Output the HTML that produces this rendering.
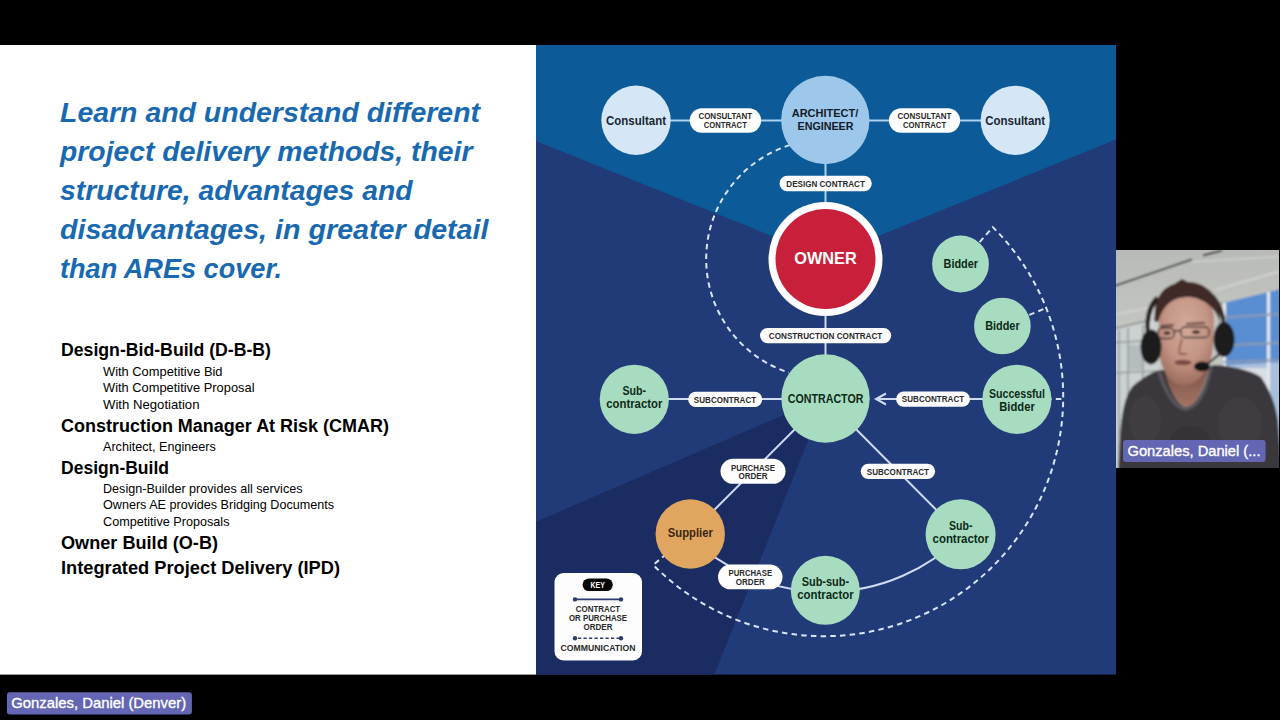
<!DOCTYPE html>
<html><head><meta charset="utf-8">
<style>
html,body{margin:0;padding:0;background:#000;width:1280px;height:720px;overflow:hidden}
svg{display:block}
text{font-family:"Liberation Sans",sans-serif}
</style></head>
<body>
<svg width="1280" height="720" viewBox="0 0 1280 720">
<defs>
<linearGradient id="ceil" x1="0" y1="0" x2="0" y2="1">
<stop offset="0" stop-color="#b8bab6"/><stop offset="1" stop-color="#c4c6c2"/>
</linearGradient>
<radialGradient id="face" cx="0.5" cy="0.35" r="0.65">
<stop offset="0" stop-color="#d3aa9a"/><stop offset="0.6" stop-color="#c39484"/><stop offset="1" stop-color="#9e6e5e"/>
</radialGradient>
<linearGradient id="neck" x1="0" y1="0" x2="0" y2="1">
<stop offset="0.35" stop-color="#7d564a"/><stop offset="1" stop-color="#a47464"/>
</linearGradient>
</defs>
<rect x="0" y="0" width="1280" height="720" fill="#000"/>
<!-- slide left -->
<rect x="0" y="45" width="536" height="629.6" fill="#fff"/>
<!-- title -->
<g font-weight="bold" font-style="italic" font-size="28.5" fill="#1869b0">
<text x="60" y="121.5" textLength="420" lengthAdjust="spacingAndGlyphs">Learn and understand different</text>
<text x="60" y="160.5" textLength="412.5" lengthAdjust="spacingAndGlyphs">project delivery methods, their</text>
<text x="60" y="199.7" textLength="352.5" lengthAdjust="spacingAndGlyphs">structure, advantages and</text>
<text x="60" y="238.7" textLength="428.5" lengthAdjust="spacingAndGlyphs">disadvantages, in greater detail</text>
<text x="60" y="277.7" textLength="222" lengthAdjust="spacingAndGlyphs">than AREs cover.</text>
</g>
<g fill="#000">
<g font-weight="bold" font-size="17.5">
<text x="61" y="356" textLength="210" lengthAdjust="spacingAndGlyphs">Design-Bid-Build (D-B-B)</text>
<text x="61" y="431.8" textLength="328" lengthAdjust="spacingAndGlyphs">Construction Manager At Risk (CMAR)</text>
<text x="61" y="473.7" textLength="108" lengthAdjust="spacingAndGlyphs">Design-Build</text>
<text x="61" y="549.4" textLength="157" lengthAdjust="spacingAndGlyphs">Owner Build (O-B)</text>
<text x="61" y="574.1" textLength="279" lengthAdjust="spacingAndGlyphs">Integrated Project Delivery (IPD)</text>
</g>
<g font-size="12.6">
<text x="103" y="375.7" textLength="119.5" lengthAdjust="spacingAndGlyphs">With Competitive Bid</text>
<text x="103" y="392.2" textLength="151.5" lengthAdjust="spacingAndGlyphs">With Competitive Proposal</text>
<text x="103" y="408.6" textLength="96.5" lengthAdjust="spacingAndGlyphs">With Negotiation</text>
<text x="103" y="451.2">Architect, Engineers</text>
<text x="103" y="492.9">Design-Builder provides all services</text>
<text x="103" y="508.8">Owners AE provides Bridging Documents</text>
<text x="103" y="525.5" textLength="126.5" lengthAdjust="spacingAndGlyphs">Competitive Proposals</text>
</g>
</g>

<!-- diagram -->
<rect x="536" y="45" width="580" height="629.6" fill="#213a78"/>
<polygon points="825.5,397 536,521.7 536,674.6 714.2,674.6" fill="#1b2c63"/>
<polygon points="536,45 1116,45 1116,139.5 825.5,257.5 536,141" fill="#0c5a97"/>

<!-- dashed arcs -->
<g fill="none" stroke="#d8e5f8" stroke-width="2" stroke-dasharray="5.5 4.2">
<path d="M789.8,145.1 A119.4,119.4 0 0 0 788.8,372.6"/>
<path d="M960.5,264 L992.8,227.1 A239.5,239.5 0 1 1 653.2,564.9 L690.25,534"/>
<path d="M1002.4,326 L1047.1,307.6"/>
<path d="M1017,399 L1064,399"/>
</g>
<!-- solid lines top -->
<g stroke="#a9d2f2" stroke-width="2" fill="none">
<line x1="636" y1="120.5" x2="1015" y2="120.5"/>
<line x1="825.5" y1="120" x2="825.5" y2="240"/>
</g>
<g stroke="#cfdbf3" stroke-width="2" fill="none">
<line x1="825.5" y1="259" x2="825.5" y2="398"/>
<line x1="634" y1="399" x2="825" y2="399"/>
<line x1="876" y1="399" x2="1017" y2="399"/>
<polyline points="886,393.5 876,399 886,404.5" stroke-linejoin="miter"/>
<line x1="825.5" y1="398.5" x2="690.25" y2="534"/>
<line x1="825.5" y1="398.5" x2="960.6" y2="534.3"/>
<path d="M688.7,535.3 A193.5,193.5 0 0 0 962.3,535.3"/>
</g>

<!-- circles -->
<circle cx="636" cy="120.3" r="34.7" fill="#d5e7f6"/>
<circle cx="1015.2" cy="120.3" r="34.6" fill="#d5e7f6"/>
<circle cx="825.3" cy="120" r="44.2" fill="#9dc8eb"/>
<circle cx="825.5" cy="259" r="57" fill="#fff"/>
<circle cx="825.5" cy="259" r="50" fill="#c8203a"/>
<g fill="#a8dcc0">
<circle cx="825.5" cy="398.5" r="44.2"/>
<circle cx="634.3" cy="399.3" r="34.6"/>
<circle cx="1016.9" cy="399.3" r="34.6"/>
<circle cx="960.5" cy="264" r="28.4"/>
<circle cx="1002.4" cy="326" r="28.3"/>
<circle cx="960.6" cy="534.3" r="35"/>
<circle cx="825.3" cy="590.3" r="34.5"/>
</g>
<circle cx="690.25" cy="534" r="34.7" fill="#e0a55f"/>

<!-- pills -->
<g fill="#fdfdfd">
<rect x="689.7" y="108.2" width="71.4" height="24.5" rx="12.2"/>
<rect x="888.9" y="108.2" width="71.2" height="24.5" rx="12.2"/>
<rect x="779.5" y="175.7" width="92.3" height="15.5" rx="7.7"/>
<rect x="760" y="328" width="131.2" height="15.2" rx="7.6"/>
<rect x="688.1" y="391.7" width="74.2" height="15.2" rx="7.6"/>
<rect x="896.1" y="391.6" width="73.9" height="15.2" rx="7.6"/>
<rect x="860.7" y="463.8" width="74.4" height="15.2" rx="7.6"/>
<rect x="720.5" y="458.8" width="65" height="25" rx="12.5"/>
<rect x="718" y="564.5" width="64.5" height="24.8" rx="12.4"/>
</g>

<!-- circle texts -->
<g font-weight="bold" text-anchor="middle">
<g font-size="12" fill="#1b2631">
<text x="636" y="124.6" textLength="60" lengthAdjust="spacingAndGlyphs">Consultant</text>
<text x="1015.2" y="124.6" textLength="60" lengthAdjust="spacingAndGlyphs">Consultant</text>
</g>
<g font-size="11" fill="#111c2a">
<text x="825" y="116.9" textLength="66.5" lengthAdjust="spacingAndGlyphs">ARCHITECT/</text>
<text x="825.5" y="130" textLength="56" lengthAdjust="spacingAndGlyphs">ENGINEER</text>
</g>
<text x="825.5" y="263.6" font-size="16.5" fill="#fff" textLength="62.5" lengthAdjust="spacingAndGlyphs">OWNER</text>
<g fill="#0d2a18">
<text x="825.6" y="403" font-size="12" textLength="75.5" lengthAdjust="spacingAndGlyphs">CONTRACTOR</text>
<g font-size="12">
<text x="634.3" y="394.8" textLength="23.5" lengthAdjust="spacingAndGlyphs">Sub-</text>
<text x="634.3" y="407.8" textLength="56" lengthAdjust="spacingAndGlyphs">contractor</text>
<text x="1017" y="398" textLength="56" lengthAdjust="spacingAndGlyphs">Successful</text>
<text x="1017" y="411.4" textLength="35.5" lengthAdjust="spacingAndGlyphs">Bidder</text>
<text x="960.8" y="268.2" textLength="34.5" lengthAdjust="spacingAndGlyphs">Bidder</text>
<text x="1002.4" y="330.4" textLength="34.5" lengthAdjust="spacingAndGlyphs">Bidder</text>
<text x="960.8" y="530.4" textLength="23.5" lengthAdjust="spacingAndGlyphs">Sub-</text>
<text x="960.8" y="542.9" textLength="56.5" lengthAdjust="spacingAndGlyphs">contractor</text>
<text x="825.4" y="585.6" textLength="47.5" lengthAdjust="spacingAndGlyphs">Sub-sub-</text>
<text x="825.4" y="598.5" textLength="56.5" lengthAdjust="spacingAndGlyphs">contractor</text>
</g>
</g>
<text x="690.3" y="537" font-size="12" fill="#3a2812" textLength="45" lengthAdjust="spacingAndGlyphs">Supplier</text>
</g>

<!-- pill texts -->
<g font-weight="bold" text-anchor="middle" fill="#2a2a2a">
<g font-size="8.3">
<text x="725.3" y="119" textLength="53.8" lengthAdjust="spacingAndGlyphs">CONSULTANT</text>
<text x="725.3" y="128.4" textLength="43.2" lengthAdjust="spacingAndGlyphs">CONTRACT</text>
<text x="924.5" y="119" textLength="53.8" lengthAdjust="spacingAndGlyphs">CONSULTANT</text>
<text x="924.5" y="128.4" textLength="43.2" lengthAdjust="spacingAndGlyphs">CONTRACT</text>
<text x="753" y="470.5" textLength="44" lengthAdjust="spacingAndGlyphs">PURCHASE</text>
<text x="753" y="479.3" textLength="29" lengthAdjust="spacingAndGlyphs">ORDER</text>
<text x="750.3" y="575.8" textLength="43.5" lengthAdjust="spacingAndGlyphs">PURCHASE</text>
<text x="750.3" y="584.5" textLength="29" lengthAdjust="spacingAndGlyphs">ORDER</text>
</g>
<g font-size="8.8">
<text x="825.6" y="186.7" textLength="78.5" lengthAdjust="spacingAndGlyphs">DESIGN CONTRACT</text>
<text x="825.6" y="338.8" textLength="113.5" lengthAdjust="spacingAndGlyphs">CONSTRUCTION CONTRACT</text>
<text x="725" y="402.5" textLength="62.3" lengthAdjust="spacingAndGlyphs">SUBCONTRACT</text>
<text x="933" y="402.4" textLength="62.3" lengthAdjust="spacingAndGlyphs">SUBCONTRACT</text>
<text x="897.9" y="474.5" textLength="62.3" lengthAdjust="spacingAndGlyphs">SUBCONTRACT</text>
</g>
</g>

<!-- key -->
<rect x="554.5" y="573" width="87.5" height="87.5" rx="9" fill="#fdfdfd"/>
<rect x="582.6" y="578.4" width="30.2" height="12.6" rx="6.3" fill="#050505"/>
<g font-weight="bold" text-anchor="middle">
<text x="597.7" y="588.2" font-size="8.5" fill="#fff" textLength="14.2" lengthAdjust="spacingAndGlyphs">KEY</text>
<g font-size="8.2" fill="#2a2a2a">
<text x="598" y="612.4" textLength="44.4" lengthAdjust="spacingAndGlyphs">CONTRACT</text>
<text x="598" y="621.2" textLength="58.2" lengthAdjust="spacingAndGlyphs">OR PURCHASE</text>
<text x="598" y="630.2" textLength="29" lengthAdjust="spacingAndGlyphs">ORDER</text>
<text x="598" y="651" textLength="74.8" lengthAdjust="spacingAndGlyphs">COMMUNICATION</text>
</g>
</g>
<g fill="#2c3a6b" stroke="#2c3a6b">
<line x1="575" y1="599.4" x2="621" y2="599.4" stroke-width="1.6"/>
<circle cx="575" cy="599.4" r="2.2" stroke="none"/>
<circle cx="621" cy="599.4" r="2.2" stroke="none"/>
<line x1="578" y1="638.2" x2="619" y2="638.2" stroke-width="1.6" stroke-dasharray="3.2 2.3"/>
<circle cx="575" cy="638.2" r="2.2" stroke="none"/>
<circle cx="621" cy="638.2" r="2.2" stroke="none"/>
</g>

<!-- webcam -->
<clipPath id="camclip"><rect x="1116" y="250" width="163" height="218"/></clipPath>
<filter id="soft" x="-5%" y="-5%" width="110%" height="110%"><feGaussianBlur stdDeviation="0.9"/></filter>
<g clip-path="url(#camclip)">
<g filter="url(#soft)">
<rect x="1110" y="245" width="175" height="230" fill="#c3c5c1"/>
<!-- ceiling -->
<polygon points="1110,245 1285,245 1285,288 1223,303 1110,330" fill="url(#ceil)"/>
<line x1="1110" y1="287.5" x2="1192" y2="259.4" stroke="#3a3c3a" stroke-width="2"/>
<line x1="1203" y1="255.5" x2="1222" y2="250.5" stroke="#3e403d" stroke-width="2.2"/>
<line x1="1110" y1="316" x2="1160" y2="305" stroke="#d3d5d2" stroke-width="1.5"/>
<line x1="1192" y1="262" x2="1285" y2="256" stroke="#cfd1ce" stroke-width="1.5"/>
<line x1="1215" y1="290" x2="1285" y2="270" stroke="#d0d2cf" stroke-width="2"/>
<line x1="1110" y1="329.5" x2="1223" y2="303" stroke="#8a8f8f" stroke-width="1.5"/>
<!-- right windows -->
<polygon points="1223,303 1285,288 1285,475 1223,475" fill="#5a8ed2"/>
<polygon points="1223,365 1285,362 1285,475 1223,475" fill="#a9c0dc"/>
<rect x="1228" y="368" width="40" height="20" fill="#d9dee3"/>
<g stroke="#e6e9ec" fill="none">
<line x1="1224.5" y1="303" x2="1224.5" y2="470" stroke-width="3"/>
<line x1="1268.5" y1="292" x2="1268.5" y2="470" stroke-width="3"/>
</g>
<g stroke="#8d9bb0" fill="none" stroke-width="2">
<line x1="1223" y1="317.5" x2="1285" y2="313.5"/>
<line x1="1223" y1="345.5" x2="1285" y2="342.5"/>
<line x1="1223" y1="362" x2="1285" y2="360"/>
</g>
<!-- left windows -->
<polygon points="1110,331 1160,320 1160,475 1110,475" fill="#cbd0d0"/>
<g stroke="#939a9b" stroke-width="1.5">
<line x1="1119" y1="330" x2="1119" y2="470"/>
<line x1="1128" y1="328" x2="1128" y2="470"/>
<line x1="1143" y1="325" x2="1143" y2="400"/>
<line x1="1110" y1="343" x2="1160" y2="340"/>
<line x1="1110" y1="373" x2="1160" y2="371"/>
</g>
<rect x="1129" y="345" width="13" height="25" fill="#b4bcbd"/>
<!-- shirt -->
<path d="M1118,475 L1120,440 C1121,415 1125,395 1133,386 C1142,378 1152,372 1160,370 L1165,370 C1170,392 1178,405 1186,407 C1196,405 1205,390 1210,366 L1215,365 C1232,366 1250,370 1261,377 C1270,390 1276,405 1278,422 L1282,475 Z" fill="#3b393c"/>
<ellipse cx="1240" cy="425" rx="22" ry="28" fill="#444247" opacity="0.5"/>
<ellipse cx="1145" cy="420" rx="16" ry="24" fill="#444247" opacity="0.5"/>
<ellipse cx="1190" cy="440" rx="20" ry="14" fill="#333136" opacity="0.7"/>
<path d="M1159,371 C1165,392 1175,408 1186,409 C1198,407 1206,392 1211,366" stroke="#58575c" stroke-width="3.5" fill="none"/>
<!-- neck -->
<path d="M1165,355 L1165,372 C1170,392 1178,405 1186,407 C1196,405 1204,390 1209,366 L1210,350 Z" fill="url(#neck)"/>
<!-- headphone band -->
<path d="M1149,334 C1147,318 1150,306 1158,298" stroke="#262223" stroke-width="6" fill="none"/>
<path d="M1151,330 C1151,318 1153,310 1157,305" stroke="#d9d9d9" stroke-width="2.5" fill="none"/>
<path d="M1223,330 C1223,316 1219,305 1212,297" stroke="#262223" stroke-width="6" fill="none"/>
<path d="M1221,326 C1221,318 1218,311 1214,305" stroke="#bdbdbd" stroke-width="2" fill="none"/>
<!-- face -->
<path d="M1159,318 C1159,302 1171,294 1186,294 C1202,294 1214,303 1214,319 L1213,345 C1212,362 1205,376 1195,382 C1188,386 1178,386 1172,381 C1164,374 1159,360 1158,345 Z" fill="url(#face)"/>
<!-- hair -->
<path d="M1155,322 C1153,301 1161,288 1174,284 L1182,279 L1188,282 C1201,282 1214,290 1219,305 L1220,322 C1216,309 1206,299 1190,297 C1174,296 1163,304 1158,322 Z" fill="#3f2a28"/>
<!-- ear cups -->
<ellipse cx="1151" cy="347" rx="10.5" ry="17.5" fill="#1f1d1f"/>
<ellipse cx="1224" cy="339.5" rx="10.5" ry="17.5" fill="#1f1d1f"/>
<!-- glasses / eyes -->
<path d="M1161,326 L1174,325 M1186,324 L1205,323" stroke="#5a3d36" stroke-width="2"/>
<g stroke="#3a2c2a" stroke-width="1.3" fill="none">
<rect x="1158" y="328" width="16" height="10.5" rx="4"/>
<rect x="1181" y="327" width="28" height="10.5" rx="4"/>
<line x1="1174" y1="331" x2="1181" y2="330.5"/>
</g>
<ellipse cx="1167" cy="333" rx="3.5" ry="1.8" fill="#3b2a28"/>
<ellipse cx="1196" cy="332" rx="4" ry="1.8" fill="#3b2a28"/>
<path d="M1182,339 C1180,346 1178,351 1180,354 L1187,354" stroke="#93614f" stroke-width="1.8" fill="none"/>
<ellipse cx="1183" cy="362.5" rx="8.5" ry="2.8" fill="#7a4a44"/>
<!-- mic -->
<path d="M1205,366 L1222,352" stroke="#222" stroke-width="2"/>
<ellipse cx="1202" cy="366.5" rx="8" ry="5" fill="#151415"/>
</g>
</g>
<rect x="1123" y="440" width="142.6" height="22" rx="3" fill="#6466b3"/>
<text x="1127.5" y="455.8" font-size="14.6" fill="#fff" stroke="#fff" stroke-width="0.35" textLength="133" lengthAdjust="spacingAndGlyphs">Gonzales, Daniel (...</text>

<!-- name tags -->
<rect x="6.9" y="692.2" width="185" height="22.2" rx="3" fill="#6466b3"/>
<text x="11.2" y="708.1" font-size="15" fill="#fff" stroke="#fff" stroke-width="0.35" textLength="175" lengthAdjust="spacingAndGlyphs">Gonzales, Daniel (Denver)</text>
</svg>
</body></html>
